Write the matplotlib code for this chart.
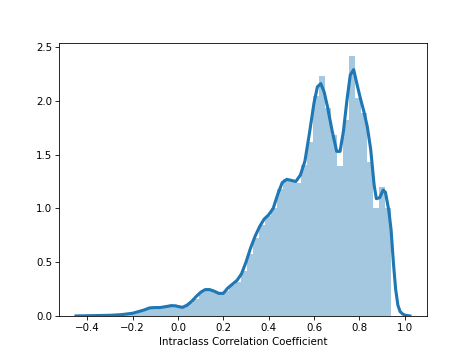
import numpy as np
import matplotlib
matplotlib.use('Agg')
import matplotlib.pyplot as plt

# histogram (density)
bin_start = -0.385
bin_width = 0.0265
hist_heights = [0.002, 0.003, 0.005, 0.007, 0.01, 0.015, 0.025, 0.035, 0.05, 0.065,
                0.075, 0.08, 0.09, 0.10, 0.09, 0.08, 0.12, 0.16, 0.22, 0.25,
                0.23, 0.20, 0.23, 0.29, 0.32, 0.42, 0.58, 0.72, 0.85, 0.93,
                1.00, 1.18, 1.27, 1.25, 1.24, 1.40, 1.62, 2.04, 2.23, 1.93,
                1.68, 1.39, 1.82, 2.42, 2.03, 1.89, 1.43, 1.00, 1.20, 1.00]

# kde curve
kde_x = [-0.45, -0.40, -0.35, -0.30, -0.25, -0.20, -0.175, -0.15, -0.125, -0.10,
         -0.08, -0.05, -0.03, -0.01, 0.00, 0.02, 0.04, 0.06, 0.08, 0.10,
         0.12, 0.14, 0.16, 0.18, 0.20, 0.22, 0.24, 0.26, 0.28, 0.30,
         0.32, 0.34, 0.36, 0.38, 0.40, 0.42, 0.44, 0.46, 0.48, 0.50,
         0.52, 0.54, 0.56, 0.58, 0.60, 0.615, 0.63, 0.645, 0.66, 0.68,
         0.70, 0.715, 0.73, 0.745, 0.76, 0.775, 0.79, 0.805, 0.82, 0.835,
         0.85, 0.865, 0.875, 0.89, 0.905, 0.915, 0.93, 0.94, 0.95, 0.96,
         0.97, 0.98, 0.99, 1.00, 1.023]
kde_y = [0.0, 0.002, 0.004, 0.006, 0.012, 0.025, 0.04, 0.055, 0.075, 0.078,
         0.078, 0.088, 0.096, 0.094, 0.088, 0.08, 0.10, 0.135, 0.18, 0.22,
         0.245, 0.245, 0.23, 0.21, 0.21, 0.26, 0.295, 0.33, 0.39, 0.50,
         0.63, 0.74, 0.83, 0.90, 0.94, 1.00, 1.13, 1.24, 1.27, 1.26,
         1.25, 1.31, 1.44, 1.70, 1.98, 2.13, 2.16, 2.08, 1.94, 1.72,
         1.53, 1.53, 1.72, 2.00, 2.24, 2.29, 2.15, 2.02, 1.90, 1.76,
         1.55, 1.22, 1.09, 1.10, 1.17, 1.15, 0.98, 0.80, 0.50, 0.25,
         0.10, 0.04, 0.02, 0.008, 0.0]

fig, ax = plt.subplots(figsize=(474 / 74, 355 / 74), dpi=74)

edges = bin_start + bin_width * np.arange(len(hist_heights))
ax.bar(edges, hist_heights, width=bin_width, align='edge', color='C0', alpha=0.4, linewidth=0)
ax.plot(kde_x, kde_y, color='C0', linewidth=3)

ax.set_xticks([-0.4, -0.2, 0.0, 0.2, 0.4, 0.6, 0.8, 1.0])
ax.set_yticks([0.0, 0.5, 1.0, 1.5, 2.0, 2.5])
ax.set_ylim(0, None)
ax.set_xlabel('Intraclass Correlation Coefficient')

plt.savefig('out.png', dpi=74)
